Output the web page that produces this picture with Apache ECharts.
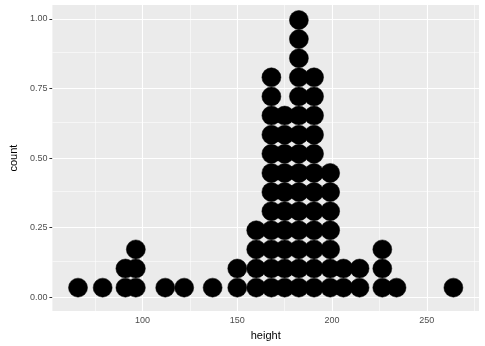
<!DOCTYPE html>
<html>
<head>
<meta charset="utf-8">
<script src="https://cdn.jsdelivr.net/npm/echarts@6/dist/echarts.min.js"></script>
<style>
html,body{margin:0;padding:0;background:#fff;}
#c{width:485px;height:346px;}
</style>
</head>
<body>
<div id="c"></div>
<script>
// Stack centres (height) and number of dots in each stack
const stackCenters = [66, 79, 91, 96.5, 112, 122, 137, 150, 160, 168, 175, 182.5, 190.5, 199, 206, 214.5, 226.5, 234, 264];
const stackCounts  = [1, 1, 2, 3, 1, 1, 1, 2, 4, 12, 10, 15, 12, 7, 2, 2, 3, 1, 1];
const dotStep = 0.0687; // stacking step in the count scale
const xTicks = [100, 150, 200, 250];
const xMinor = [75, 125, 175, 225, 275];
const yTicks = [0, 0.25, 0.5, 0.75, 1];
const yMinor = [0.125, 0.375, 0.625, 0.875];

const dots = [];
stackCenters.forEach((x, i) => {
  for (let k = 1; k <= stackCounts[i]; k++) dots.push([x, (k - 0.5) * dotStep]);
});

const major = {color: '#ffffff', width: 1.1, type: 'solid'};
const minor = {color: '#ffffff', width: 0.55, type: 'solid'};
const gridLines = [];
xMinor.forEach(v => gridLines.push({xAxis: v, lineStyle: minor}));
yMinor.forEach(v => gridLines.push({yAxis: v, lineStyle: minor}));
xTicks.forEach(v => gridLines.push({xAxis: v, lineStyle: major}));
yTicks.forEach(v => gridLines.push({yAxis: v, lineStyle: major}));

const chart = echarts.init(document.getElementById('c'), null, {renderer: 'canvas'});
chart.setOption({
  animation: false,
  backgroundColor: '#ffffff',
  grid: {left: 40, right: 6, top: 5, bottom: 33, show: true, backgroundColor: '#EBEBEB', borderWidth: 0},
  xAxis: {
    type: 'value', min: 52.5, max: 277.5,
    name: 'height', nameLocation: 'middle', nameGap: 17,
    nameTextStyle: {color: '#000', fontSize: 11, fontFamily: 'Liberation Sans'},
    axisLine: {show: false},
    splitLine: {show: false},
    axisTick: {show: true, length: 3, customValues: xTicks, lineStyle: {color: '#333333', width: 1}},
    axisLabel: {customValues: xTicks, margin: 5, color: '#4D4D4D', fontSize: 9, fontFamily: 'Liberation Sans'}
  },
  yAxis: {
    type: 'value', min: -0.05, max: 1.05,
    name: 'count', nameLocation: 'middle', nameGap: 28, nameRotate: 90,
    nameTextStyle: {color: '#000', fontSize: 11, fontFamily: 'Liberation Sans'},
    axisLine: {show: false},
    splitLine: {show: false},
    axisTick: {show: true, length: 3, customValues: yTicks, lineStyle: {color: '#333333', width: 1}},
    axisLabel: {customValues: yTicks, margin: 5, color: '#4D4D4D', fontSize: 9, fontFamily: 'Liberation Sans',
      formatter: v => Number(v).toFixed(2)}
  },
  series: [
    {
      type: 'scatter', data: [], z: 1, silent: true,
      markLine: {silent: true, symbol: ['none', 'none'], label: {show: false}, animation: false, data: gridLines}
    },
    {
      type: 'scatter', data: dots, zlevel: 1, z: 10, symbol: 'circle', symbolSize: 19,
      itemStyle: {color: '#000000', borderColor: '#000000', borderWidth: 0.5, opacity: 1}
    }
  ]
});
</script>
</body>
</html>
